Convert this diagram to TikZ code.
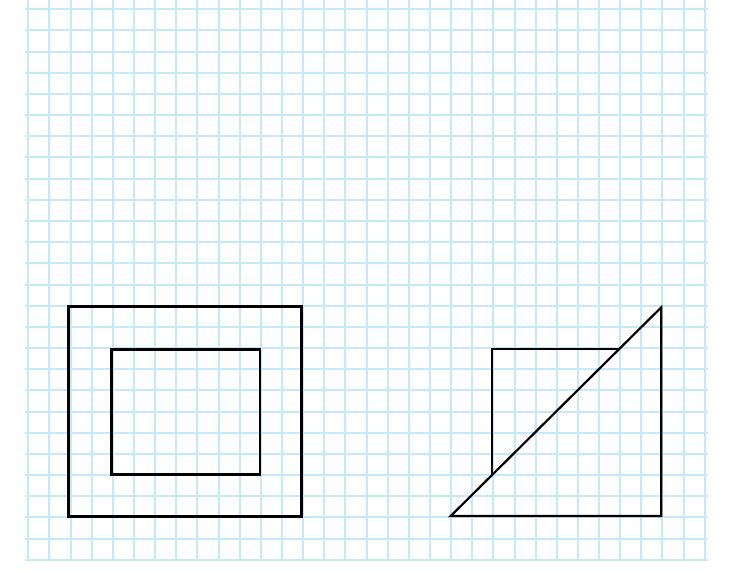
\documentclass[tikz,border=0pt]{standalone}
\definecolor{gridblue}{RGB}{196,233,251}
\begin{document}
\begin{tikzpicture}[x=1pt,y=-1pt,
  gridline/.style={draw=gridblue,line width=2pt},
  thickshape/.style={draw=black,line width=2.8pt,line join=miter},
  thinshape/.style={draw=black,line width=2.2pt,line join=miter,line cap=round}]
\useasboundingbox[fill=white] (0,0) rectangle (741,571);
% grid
\foreach \k in {0,...,32} {
  \pgfmathsetmacro{\gx}{round(28.3+21.14*\k)}
  \draw[gridline] (\gx,0) -- (\gx,560);
}
\foreach \k in {0,...,26} {
  \pgfmathsetmacro{\gy}{round(9.3+21.17*\k)}
  \draw[gridline] (25,\gy) -- (708,\gy);
}
% left figure: two rectangles
\draw[thickshape] (68.3,306.7) rectangle (301.3,516.7);
\draw[thickshape] (111.5,349.3) rectangle (260,474.3);
% right figure: triangle and partial square
\coordinate (tA) at (450.7,516);
\coordinate (tB) at (661.3,516);
\coordinate (tC) at (661.3,307.3);
\draw[thinshape] (tA) -- (tB) -- (tC) -- cycle;
\coordinate (sA) at (492.3,474.0);
\coordinate (sB) at (492.3,349.3);
\coordinate (sC) at (619.0,349.3);
\draw[thinshape] (sA) -- (sB) -- (sC);
\end{tikzpicture}
\end{document}
